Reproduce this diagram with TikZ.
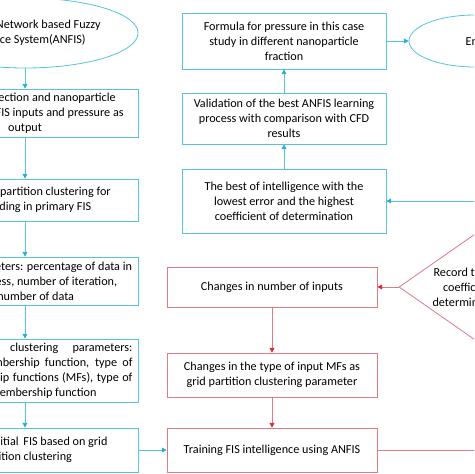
\documentclass[tikz,border=0pt]{standalone}
\usepackage{fontspec}
\setmainfont{Carlito}
\usetikzlibrary{arrows.meta,shapes.geometric}
\definecolor{flowblue}{RGB}{85,198,218}
\definecolor{tipblue}{RGB}{30,172,214}
\definecolor{flowred}{RGB}{218,125,135}
\definecolor{tipred}{RGB}{226,30,42}
\newcommand{\jline}[1]{\makebox[6.45cm][s]{#1}}

\begin{document}
\begin{tikzpicture}[x=0.03cm, y=-0.03cm,
  font=\fontsize{10.4}{12.9}\selectfont,
  bluebox/.style={draw=flowblue, line width=0.7pt, align=center, inner sep=2pt},
  redbox/.style={draw=flowred, line width=0.7pt, align=center, inner sep=2pt},
  bluearrow/.style={draw=flowblue, line width=0.7pt, -{Triangle[length=4pt,width=4pt,color=tipblue]}},
  redarrow/.style={draw=flowred, line width=0.7pt, -{Triangle[length=4pt,width=4pt,color=tipred]}}]
  \useasboundingbox (0,0) rectangle (474,474);
  \clip (0,0) rectangle (474,474);

  % Left column
  \node[bluebox, ellipse, minimum width=6.78cm, minimum height=2.1cm] (anfis) at (25,33)
    {Adaptive Network based Fuzzy\\Inference System(ANFIS)};
  \node[bluebox, minimum width=6.81cm, minimum height=1.44cm] (inputs) at (25,113)
    {Fluid flow direction and nanoparticle\\fraction as ANFIS inputs and pressure as\\output};
  \node[bluebox, minimum width=6.81cm, minimum height=1.26cm] (grid) at (25,200)
    {Using a grid partition clustering for\\rule building in primary FIS};
  \node[bluebox, minimum width=6.81cm, minimum height=1.44cm] (learn) at (25,281)
    {Learning parameters: percentage of data in\\training process, number of iteration,\\and number of data};
  \node[bluebox, minimum width=6.81cm, minimum height=1.89cm] (mfpar) at (25,370.5)
    {\jline{Grid partition clustering parameters:}\\\jline{number of membership function, type of}\\
     \jline{input membership functions (MFs), type of}\\output membership function};
  \node[bluebox, minimum width=6.81cm, minimum height=1.32cm] (initfis) at (25,450)
    {Generate initial\, FIS based on grid\\partition clustering};

  % Right column
  \node[bluebox, minimum width=6.12cm, minimum height=1.68cm] (formula) at (284,41)
    {Formula for pressure in this case\\study in different nanoparticle\\fraction};
  \node[bluebox, ellipse, minimum width=3.96cm, minimum height=1.56cm] (end) at (475,41) {End};
  \node[bluebox, minimum width=6.12cm, minimum height=1.53cm] (valid) at (284,118.5)
    {Validation of the best ANFIS learning\\process with comparison with CFD\\results};
  \node[bluebox, minimum width=6.12cm, minimum height=1.92cm] (best) at (284,201)
    {The best of intelligence with the\\lowest error and the highest\\coefficient of determination};
  \node[redbox, minimum width=6.3cm, minimum height=1.2cm] (numin) at (272,287)
    {Changes in number of inputs};
  \node[redbox, minimum width=6.3cm, minimum height=1.32cm] (mftype) at (272,375)
    {Changes in the type of input MFs as\\grid partition clustering parameter};
  \node[redbox, minimum width=6.3cm, minimum height=1.32cm] (train) at (272,450)
    {Training FIS intelligence using ANFIS};

  % Decision
  \node[draw=flowred, line width=0.7pt, diamond, minimum width=5.16cm, minimum height=3.6cm, inner sep=0pt] (record) at (485,287) {};
  \node[align=center] (recordtext) at (record.center) {Record the error and\\coefficient of the\\determination for FIS};

  % Connectors
  \draw[bluearrow] (anfis) -- (inputs);
  \draw[bluearrow] (inputs) -- (grid);
  \draw[bluearrow] (grid) -- (learn);
  \draw[bluearrow] (learn) -- (mfpar);
  \draw[bluearrow] (mfpar) -- (initfis);
  \draw[bluearrow] (initfis) -- (train);
  \draw[redarrow] (train.east) -| (record.south);
  \draw[redarrow] (record.west) -- (numin.east);
  \draw[redarrow] (numin) -- (mftype);
  \draw[redarrow] (mftype) -- (train);
  \draw[bluearrow] (record.north) |- (best.east);
  \draw[bluearrow] (best) -- (valid);
  \draw[bluearrow] (valid) -- (formula);
  \draw[bluearrow] (formula) -- (end);
\end{tikzpicture}
\end{document}
